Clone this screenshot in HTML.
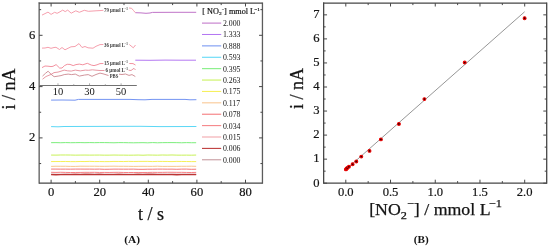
<!DOCTYPE html>
<html><head><meta charset="utf-8"><title>Figure</title>
<style>
html,body{margin:0;padding:0;background:#fff;width:550px;height:248px;overflow:hidden}
svg{display:block;filter:blur(0.3px)}
</style></head><body>
<svg width="550" height="248" viewBox="0 0 550 248">
<rect width="550" height="248" fill="#fff"/>
<polyline points="51.1,12.6 120,12.6 135,12.7 141,12.9 146,13.3 150,13 152.5,12.4 175,12.3 196.2,12.3" fill="none" stroke="#c074c8" stroke-width="1.0" stroke-linejoin="round"/>
<polyline points="51.1,60.4 120,60.3 134.7,60.2 150,60.3 165,60.1 180,60.2 196,60.2" fill="none" stroke="#b478f2" stroke-width="1.0" stroke-linejoin="round"/>
<polyline points="51.1,100.1 62,100 70,100.1 75,100.2 78.5,99.4 90,99.4 130,99.4 138,99.7 145,99.8 152,99.4 185,99.4 190,99.8 196.4,99.7" fill="none" stroke="#7494f2" stroke-width="1.0" stroke-linejoin="round"/>
<polyline points="51.1,126.6 58,126.8 64,126.5 100,126.4 140,126.3 160,126.6 196.4,126.5" fill="none" stroke="#5cd8f6" stroke-width="1.0" stroke-linejoin="round"/>
<polyline points="51.1,142.66 55.94,142.61 60.77,142.74 65.61,142.59 70.44,142.71 75.28,142.67 80.11,142.59 84.95,142.7 89.79,142.58 94.62,142.68 99.46,142.59 104.29,142.6 109.13,142.68 113.96,142.78 118.8,142.61 123.64,142.63 128.47,142.73 133.31,142.81 138.14,142.72 142.98,142.67 147.81,142.82 152.65,142.59 157.49,142.79 162.32,142.65 167.16,142.61 171.99,142.6 176.83,142.65 181.66,142.78 186.5,142.62 191.34,142.72 196.17,142.73" fill="none" stroke="#7cee7c" stroke-width="1.0" stroke-linejoin="round"/>
<polyline points="51.1,155.07 55.94,155.11 60.77,154.99 65.61,154.99 70.44,155.03 75.28,155.15 80.11,155.08 84.95,155.05 89.79,155.12 94.62,155.09 99.46,155.05 104.29,155.17 109.13,155.15 113.96,155.04 118.8,155.12 123.64,155.11 128.47,155.19 133.31,155.16 138.14,155.05 142.98,155.22 147.81,155 152.65,155.08 157.49,155.16 162.32,155.01 167.16,155.1 171.99,154.98 176.83,155.14 181.66,155.17 186.5,155.12 191.34,155.19 196.17,155.05" fill="none" stroke="#c8f258" stroke-width="1.0" stroke-linejoin="round"/>
<polyline points="51.1,161.55 55.94,161.52 60.77,161.52 65.61,161.49 70.44,161.58 75.28,161.61 80.11,161.49 84.95,161.54 89.79,161.39 94.62,161.55 99.46,161.54 104.29,161.62 109.13,161.58 113.96,161.45 118.8,161.47 123.64,161.54 128.47,161.38 133.31,161.49 138.14,161.42 142.98,161.4 147.81,161.39 152.65,161.57 157.49,161.41 162.32,161.44 167.16,161.47 171.99,161.59 176.83,161.4 181.66,161.49 186.5,161.51 191.34,161.6 196.17,161.58" fill="none" stroke="#f6f05a" stroke-width="1.0" stroke-linejoin="round"/>
<polyline points="51.1,166.39 55.94,166.24 60.77,166.28 65.61,166.26 70.44,166.4 75.28,166.41 80.11,166.21 84.95,166.22 89.79,166.23 94.62,166.23 99.46,166.3 104.29,166.32 109.13,166.24 113.96,166.18 118.8,166.28 123.64,166.27 128.47,166.32 133.31,166.41 138.14,166.35 142.98,166.3 147.81,166.33 152.65,166.34 157.49,166.19 162.32,166.4 167.16,166.37 171.99,166.39 176.83,166.37 181.66,166.27 186.5,166.27 191.34,166.2 196.17,166.33" fill="none" stroke="#f9c690" stroke-width="1.0" stroke-linejoin="round"/>
<polyline points="51.1,169.09 55.94,169.09 60.77,169.13 65.61,169.12 70.44,169.16 75.28,169.09 80.11,169.08 84.95,169.11 89.79,169.1 94.62,169.17 99.46,169.08 104.29,169.29 109.13,169.23 113.96,169.11 118.8,169.14 123.64,169.16 128.47,169.17 133.31,169.11 138.14,169.29 142.98,169.32 147.81,169.19 152.65,169.2 157.49,169.1 162.32,169.1 167.16,169.16 171.99,169.14 176.83,169.28 181.66,169.12 186.5,169.08 191.34,169.31 196.17,169.21" fill="none" stroke="#f47678" stroke-width="1.0" stroke-linejoin="round"/>
<polyline points="51.1,172.31 55.94,172.41 60.77,172.28 65.61,172.41 70.44,172.52 75.28,172.49 80.11,172.45 84.95,172.34 89.79,172.37 94.62,172.32 99.46,172.47 104.29,172.41 109.13,172.47 113.96,172.36 118.8,172.33 123.64,172.48 128.47,172.52 133.31,172.49 138.14,172.48 142.98,172.48 147.81,172.46 152.65,172.33 157.49,172.4 162.32,172.36 167.16,172.28 171.99,172.28 176.83,172.34 181.66,172.34 186.5,172.45 191.34,172.51 196.17,172.39" fill="none" stroke="#f68084" stroke-width="1.0" stroke-linejoin="round"/>
<polyline points="51.1,174.41 55.94,174.42 60.77,174.41 65.61,174.27 70.44,174.23 75.28,174.23 80.11,174.22 84.95,174.23 89.79,174.33 94.62,174.4 99.46,174.39 104.29,174.29 109.13,174.34 113.96,174.37 118.8,174.2 123.64,174.34 128.47,174.4 133.31,174.37 138.14,174.36 142.98,174.29 147.81,174.22 152.65,174.37 157.49,174.26 162.32,174.38 167.16,174.42 171.99,174.27 176.83,174.28 181.66,174.41 186.5,174.36 191.34,174.22 196.17,174.21" fill="none" stroke="#f2a4aa" stroke-width="1.0" stroke-linejoin="round"/>
<polyline points="51.1,174.11 55.94,174.3 60.77,174.28 65.61,174.11 70.44,174.28 75.28,174.32 80.11,174.24 84.95,174.16 89.79,174.21 94.62,174.11 99.46,174.08 104.29,174.32 109.13,174.24 113.96,174.21 118.8,174.31 123.64,174.18 128.47,174.29 133.31,174.28 138.14,174.13 142.98,174.14 147.81,174.15 152.65,174.14 157.49,174.22 162.32,174.14 167.16,174.18 171.99,174.11 176.83,174.3 181.66,174.16 186.5,174.19 191.34,174.22 196.17,174.3" fill="none" stroke="#c4969c" stroke-width="1.0" stroke-linejoin="round"/>
<polyline points="51.1,174.58 55.94,174.7 60.77,174.6 65.61,174.61 70.44,174.61 75.28,174.48 80.11,174.59 84.95,174.52 89.79,174.48 94.62,174.67 99.46,174.52 104.29,174.59 109.13,174.66 113.96,174.61 118.8,174.56 123.64,174.6 128.47,174.61 133.31,174.67 138.14,174.5 142.98,174.62 147.81,174.54 152.65,174.54 157.49,174.67 162.32,174.6 167.16,174.62 171.99,174.66 176.83,174.7 181.66,174.59 186.5,174.63 191.34,174.6 196.17,174.6" fill="none" stroke="#bc3434" stroke-width="1.4" stroke-linejoin="round"/>
<rect x="40.1" y="3.8" width="95.2" height="93" fill="#fff"/>
<polyline points="42,15.1 45,13.6 48,12.1 51.1,14.4 54.6,12.3 57.1,13.3 60,11.8 62.7,10.1 65.2,11.6 67.7,10.1 71.2,13.2 75.8,10.8 79.3,12.3 84.3,10.3 88.4,11.3 93,11 96,10.8 100,10.6 103.4,10.3" fill="none" stroke="#f494a4" stroke-width="0.9" stroke-linejoin="round"/>
<polyline points="129,8 131.6,8.3 133.5,10.5 135.3,12.6" fill="none" stroke="#f494a4" stroke-width="0.9" stroke-linejoin="round"/>
<polyline points="42,48.1 45,48 48,47.3 51,48.3 54,47.5 56,47.3 59.5,49.5 62,47.5 65,49.8 68,48.3 71,46.8 75,46.5 79,43.6 82,47.5 85,46.5 88,47.8 93,48.2 96,46.3 100,44.6 103.4,44.5" fill="none" stroke="#f494a4" stroke-width="0.9" stroke-linejoin="round"/>
<polyline points="129.3,44.5 133.3,47.8 135.5,45" fill="none" stroke="#f494a4" stroke-width="0.9" stroke-linejoin="round"/>
<polyline points="42,67.6 45,66 48,66.2 51,66.6 53,66.3 56.1,64.6 59.7,68.1 62,68 64.5,65.6 67.2,64.3 70,64.4 73.2,65.6 76,64.6 79.3,64.1 82.8,64.8 87.3,63.3 91.4,65.1 94,65.6 97,64.8 100,63.6 103.4,63.5" fill="none" stroke="#f08494" stroke-width="0.9" stroke-linejoin="round"/>
<polyline points="129.3,63.5 133,63.6 135.5,65" fill="none" stroke="#f08494" stroke-width="0.9" stroke-linejoin="round"/>
<polyline points="42.5,79.2 46,76.5 51.1,74.4 54,72.6 58,72.1 61,71.2 64.2,70.1 67.5,70.8 71.2,71.1 75.3,70.1 80.3,70.9 85.3,70.1 88.5,70.3 92.4,69.8 96,70.2 100,70.5 104.5,70.5" fill="none" stroke="#e48c98" stroke-width="0.9" stroke-linejoin="round"/>
<polyline points="128.6,70.2 131,70.5 134,68.3 135.5,70" fill="none" stroke="#e48c98" stroke-width="0.9" stroke-linejoin="round"/>
<polyline points="42.5,76.1 45.5,73.3 48.1,71.2 51.1,74.3 54.1,76.7 58.1,76.1 61,75.6 64.2,74.6 68.2,74.1 71.5,74.6 75.3,74.1 79.3,76.1 84.3,75.1 88.2,74.6 92,76.3 96,74.5 100,73.1 103,73.8 108.5,75.5" fill="none" stroke="#cc8890" stroke-width="0.9" stroke-linejoin="round"/>
<polyline points="119,74.2 122,74.5 125.5,74 129,75.4 132,74.6 135.3,76.5" fill="none" stroke="#cc8890" stroke-width="0.9" stroke-linejoin="round"/>
<text x="104.1" y="11.9" font-size="5.2" fill="#3a3a3a" font-weight="bold" textLength="23.8" lengthAdjust="spacingAndGlyphs" font-family="'Liberation Serif', 'DejaVu Serif', serif">79 µmol L<tspan font-size="3.4" dy="-2" dx="-0.6">−1</tspan></text>
<text x="104.1" y="46.6" font-size="5.2" fill="#3a3a3a" font-weight="bold" textLength="23.8" lengthAdjust="spacingAndGlyphs" font-family="'Liberation Serif', 'DejaVu Serif', serif">36 µmol L<tspan font-size="3.4" dy="-2" dx="-0.6">−1</tspan></text>
<text x="104.1" y="64.9" font-size="5.2" fill="#3a3a3a" font-weight="bold" textLength="23.8" lengthAdjust="spacingAndGlyphs" font-family="'Liberation Serif', 'DejaVu Serif', serif">15 µmol L<tspan font-size="3.4" dy="-2" dx="-0.6">−1</tspan></text>
<text x="105.6" y="71.9" font-size="5.2" fill="#3a3a3a" font-weight="bold" textLength="22.3" lengthAdjust="spacingAndGlyphs" font-family="'Liberation Serif', 'DejaVu Serif', serif">6 µmol L<tspan font-size="3.4" dy="-2" dx="-0.6">−1</tspan></text>
<text x="109.7" y="78.1" font-size="5.2" fill="#3a3a3a" font-weight="bold" textLength="8.6" lengthAdjust="spacingAndGlyphs" font-family="'Liberation Serif', 'DejaVu Serif', serif">PBS</text>
<path d="M39.4 85.5H136.8" stroke="#6a6a6a" stroke-width="0.95"/>
<path d="M57.98 85.5V83.3M73.76 85.5V84.1M89.54 85.5V83.3M105.32 85.5V84.1M121.1 85.5V83.3" stroke="#8a8a8a" stroke-width="0.7"/>
<text x="57.98" y="95.3" font-size="10.5" fill="#141414" text-anchor="middle" font-family="'Liberation Serif', 'DejaVu Serif', serif">10</text>
<text x="89.54" y="95.3" font-size="10.5" fill="#141414" text-anchor="middle" font-family="'Liberation Serif', 'DejaVu Serif', serif">30</text>
<text x="121.1" y="95.3" font-size="10.5" fill="#141414" text-anchor="middle" font-family="'Liberation Serif', 'DejaVu Serif', serif">50</text>
<text x="202.3" y="13.6" font-size="7.5" fill="#141414" stroke="#141414" stroke-width="0.18" textLength="57.5" lengthAdjust="spacingAndGlyphs" font-family="'Liberation Serif', 'DejaVu Serif', serif">[ NO<tspan font-size="5" dy="1.8">2</tspan><tspan font-size="4" dy="-4.4">−</tspan><tspan dy="2.6">] mmol L</tspan><tspan font-size="4.6" dy="-2.6" dx="-0.6">−1</tspan></text>
<path d="M202 23.1H221.2" stroke="#c074c8" stroke-width="1.05"/>
<text x="222.9" y="26.05" font-size="7.8" fill="#141414" font-family="'Liberation Serif', 'DejaVu Serif', serif">2.000</text>
<path d="M202 34.49H221.2" stroke="#b478f2" stroke-width="1.05"/>
<text x="222.9" y="37.44" font-size="7.8" fill="#141414" font-family="'Liberation Serif', 'DejaVu Serif', serif">1.333</text>
<path d="M202 45.88H221.2" stroke="#7494f2" stroke-width="1.05"/>
<text x="222.9" y="48.83" font-size="7.8" fill="#141414" font-family="'Liberation Serif', 'DejaVu Serif', serif">0.888</text>
<path d="M202 57.27H221.2" stroke="#5cd8f6" stroke-width="1.05"/>
<text x="222.9" y="60.22" font-size="7.8" fill="#141414" font-family="'Liberation Serif', 'DejaVu Serif', serif">0.593</text>
<path d="M202 68.66H221.2" stroke="#7cee7c" stroke-width="1.05"/>
<text x="222.9" y="71.61" font-size="7.8" fill="#141414" font-family="'Liberation Serif', 'DejaVu Serif', serif">0.395</text>
<path d="M202 80.05H221.2" stroke="#c8f258" stroke-width="1.05"/>
<text x="222.9" y="83" font-size="7.8" fill="#141414" font-family="'Liberation Serif', 'DejaVu Serif', serif">0.263</text>
<path d="M202 91.44H221.2" stroke="#f6f05a" stroke-width="1.05"/>
<text x="222.9" y="94.39" font-size="7.8" fill="#141414" font-family="'Liberation Serif', 'DejaVu Serif', serif">0.175</text>
<path d="M202 102.83H221.2" stroke="#f9c690" stroke-width="1.05"/>
<text x="222.9" y="105.78" font-size="7.8" fill="#141414" font-family="'Liberation Serif', 'DejaVu Serif', serif">0.117</text>
<path d="M202 114.22H221.2" stroke="#f47678" stroke-width="1.05"/>
<text x="222.9" y="117.17" font-size="7.8" fill="#141414" font-family="'Liberation Serif', 'DejaVu Serif', serif">0.078</text>
<path d="M202 125.61H221.2" stroke="#f68084" stroke-width="1.05"/>
<text x="222.9" y="128.56" font-size="7.8" fill="#141414" font-family="'Liberation Serif', 'DejaVu Serif', serif">0.034</text>
<path d="M202 137H221.2" stroke="#f2a4aa" stroke-width="1.05"/>
<text x="222.9" y="139.95" font-size="7.8" fill="#141414" font-family="'Liberation Serif', 'DejaVu Serif', serif">0.015</text>
<path d="M202 148.39H221.2" stroke="#bc3434" stroke-width="1.05"/>
<text x="222.9" y="151.34" font-size="7.8" fill="#141414" font-family="'Liberation Serif', 'DejaVu Serif', serif">0.006</text>
<path d="M202 159.78H221.2" stroke="#c4969c" stroke-width="1.05"/>
<text x="222.9" y="162.73" font-size="7.8" fill="#141414" font-family="'Liberation Serif', 'DejaVu Serif', serif">0.000</text>
<path d="M39.15 2.45V183.75M262.45 2.45V183.75" stroke="#5c5c5c" stroke-width="1.3" fill="none"/>
<rect x="39.15" y="3.1" width="223.3" height="180" fill="none" stroke="#474747" stroke-width="1.3" stroke-dasharray="223.3 180"/>
<path d="M51.1 183.1V179.7M51.1 3.1V6.5M99.7 183.1V179.7M99.7 3.1V6.5M148.3 183.1V179.7M148.3 3.1V6.5M196.9 183.1V179.7M196.9 3.1V6.5M245.5 183.1V179.7M245.5 3.1V6.5" stroke="#474747" stroke-width="1" fill="none"/>
<path d="M75.4 183.1V181.1M75.4 3.1V5.1M124 183.1V181.1M124 3.1V5.1M172.6 183.1V181.1M172.6 3.1V5.1M221.2 183.1V181.1M221.2 3.1V5.1" stroke="#474747" stroke-width="1" fill="none"/>
<path d="M39.15 137.9H42.55M262.45 137.9H259.05M39.15 86.6H42.55M262.45 86.6H259.05M39.15 35.3H42.55M262.45 35.3H259.05" stroke="#474747" stroke-width="1" fill="none"/>
<path d="M39.15 163.55H41.15M262.45 163.55H260.45M39.15 112.25H41.15M262.45 112.25H260.45M39.15 60.95H41.15M262.45 60.95H260.45M39.15 9.65H41.15M262.45 9.65H260.45" stroke="#474747" stroke-width="1" fill="none"/>
<text transform="translate(51.1 196.3) scale(1 1.06)" font-size="12.6" fill="#141414" stroke="#141414" stroke-width="0.2" text-anchor="middle" font-family="'Liberation Serif', 'DejaVu Serif', serif">0</text>
<text transform="translate(99.7 196.3) scale(1 1.06)" font-size="12.6" fill="#141414" stroke="#141414" stroke-width="0.2" text-anchor="middle" font-family="'Liberation Serif', 'DejaVu Serif', serif">20</text>
<text transform="translate(148.3 196.3) scale(1 1.06)" font-size="12.6" fill="#141414" stroke="#141414" stroke-width="0.2" text-anchor="middle" font-family="'Liberation Serif', 'DejaVu Serif', serif">40</text>
<text transform="translate(196.9 196.3) scale(1 1.06)" font-size="12.6" fill="#141414" stroke="#141414" stroke-width="0.2" text-anchor="middle" font-family="'Liberation Serif', 'DejaVu Serif', serif">60</text>
<text transform="translate(245.5 196.3) scale(1 1.06)" font-size="12.6" fill="#141414" stroke="#141414" stroke-width="0.2" text-anchor="middle" font-family="'Liberation Serif', 'DejaVu Serif', serif">80</text>
<text transform="translate(35.2 141.2) scale(1 1.06)" font-size="12.6" fill="#141414" stroke="#141414" stroke-width="0.2" text-anchor="end" font-family="'Liberation Serif', 'DejaVu Serif', serif">2</text>
<text transform="translate(35.2 89.9) scale(1 1.06)" font-size="12.6" fill="#141414" stroke="#141414" stroke-width="0.2" text-anchor="end" font-family="'Liberation Serif', 'DejaVu Serif', serif">4</text>
<text transform="translate(35.2 38.6) scale(1 1.06)" font-size="12.6" fill="#141414" stroke="#141414" stroke-width="0.2" text-anchor="end" font-family="'Liberation Serif', 'DejaVu Serif', serif">6</text>
<text transform="translate(15.2 89.1) rotate(-90)" font-size="18" fill="#141414" stroke="#141414" stroke-width="0.25" text-anchor="middle" font-family="'Liberation Serif', 'DejaVu Serif', serif">i / nA</text>
<text x="151" y="219.6" font-size="18" fill="#141414" stroke="#141414" stroke-width="0.25" text-anchor="middle" font-family="'Liberation Serif', 'DejaVu Serif', serif">t / s</text>
<text x="132.1" y="242.7" font-size="11.4" font-weight="bold" fill="#141414" text-anchor="middle" font-family="'Liberation Serif', 'DejaVu Serif', serif">(A)</text>
<path d="M345.8 169.6L524.6 11.8" stroke="#8a8a8a" stroke-width="0.9"/>
<circle cx="345.9" cy="169.4" r="1.45" fill="#3a0000" stroke="#f00000" stroke-width="1.05"/>
<circle cx="346.5" cy="168.7" r="1.45" fill="#3a0000" stroke="#f00000" stroke-width="1.05"/>
<circle cx="347.3" cy="168" r="1.45" fill="#3a0000" stroke="#f00000" stroke-width="1.05"/>
<circle cx="348.9" cy="166.8" r="1.45" fill="#3a0000" stroke="#f00000" stroke-width="1.05"/>
<circle cx="352.6" cy="164.3" r="1.45" fill="#3a0000" stroke="#f00000" stroke-width="1.05"/>
<circle cx="356.3" cy="161.5" r="1.45" fill="#3a0000" stroke="#f00000" stroke-width="1.05"/>
<circle cx="361.3" cy="156.6" r="1.45" fill="#3a0000" stroke="#f00000" stroke-width="1.05"/>
<circle cx="369.5" cy="150.9" r="1.45" fill="#3a0000" stroke="#f00000" stroke-width="1.05"/>
<circle cx="380.9" cy="139.4" r="1.45" fill="#3a0000" stroke="#f00000" stroke-width="1.05"/>
<circle cx="398.9" cy="123.9" r="1.45" fill="#3a0000" stroke="#f00000" stroke-width="1.05"/>
<circle cx="424.4" cy="99.1" r="1.45" fill="#3a0000" stroke="#f00000" stroke-width="1.05"/>
<circle cx="464.7" cy="62.6" r="1.45" fill="#3a0000" stroke="#f00000" stroke-width="1.05"/>
<circle cx="524.6" cy="18.2" r="1.45" fill="#3a0000" stroke="#f00000" stroke-width="1.05"/>
<path d="M323.65 2.45V183.75M546.7 2.45V183.75" stroke="#474747" stroke-width="1.3" fill="none"/>
<rect x="323.65" y="3.1" width="223.05" height="180" fill="none" stroke="#474747" stroke-width="1.3" stroke-dasharray="223.05 180"/>
<path d="M345.8 183.1V179.7M345.8 3.1V6.5M390.53 183.1V179.7M390.53 3.1V6.5M435.25 183.1V179.7M435.25 3.1V6.5M479.98 183.1V179.7M479.98 3.1V6.5M524.7 183.1V179.7M524.7 3.1V6.5" stroke="#474747" stroke-width="1" fill="none"/>
<path d="M368.16 183.1V181.1M368.16 3.1V5.1M412.89 183.1V181.1M412.89 3.1V5.1M457.61 183.1V181.1M457.61 3.1V5.1M502.34 183.1V181.1M502.34 3.1V5.1" stroke="#474747" stroke-width="1" fill="none"/>
<path d="M323.65 183.2H327.05M546.7 183.2H543.3M323.65 159.15H327.05M546.7 159.15H543.3M323.65 135.1H327.05M546.7 135.1H543.3M323.65 111.05H327.05M546.7 111.05H543.3M323.65 87H327.05M546.7 87H543.3M323.65 62.95H327.05M546.7 62.95H543.3M323.65 38.9H327.05M546.7 38.9H543.3M323.65 14.85H327.05M546.7 14.85H543.3" stroke="#474747" stroke-width="1" fill="none"/>
<path d="M323.65 171.17H325.65M546.7 171.17H544.7M323.65 147.12H325.65M546.7 147.12H544.7M323.65 123.07H325.65M546.7 123.07H544.7M323.65 99.02H325.65M546.7 99.02H544.7M323.65 74.97H325.65M546.7 74.97H544.7M323.65 50.92H325.65M546.7 50.92H544.7M323.65 26.87H325.65M546.7 26.87H544.7" stroke="#474747" stroke-width="1" fill="none"/>
<text transform="translate(345.8 196.3) scale(1 1.06)" font-size="12.6" fill="#141414" stroke="#141414" stroke-width="0.2" text-anchor="middle" font-family="'Liberation Serif', 'DejaVu Serif', serif">0.0</text>
<text transform="translate(390.53 196.3) scale(1 1.06)" font-size="12.6" fill="#141414" stroke="#141414" stroke-width="0.2" text-anchor="middle" font-family="'Liberation Serif', 'DejaVu Serif', serif">0.5</text>
<text transform="translate(435.25 196.3) scale(1 1.06)" font-size="12.6" fill="#141414" stroke="#141414" stroke-width="0.2" text-anchor="middle" font-family="'Liberation Serif', 'DejaVu Serif', serif">1.0</text>
<text transform="translate(479.98 196.3) scale(1 1.06)" font-size="12.6" fill="#141414" stroke="#141414" stroke-width="0.2" text-anchor="middle" font-family="'Liberation Serif', 'DejaVu Serif', serif">1.5</text>
<text transform="translate(524.7 196.3) scale(1 1.06)" font-size="12.6" fill="#141414" stroke="#141414" stroke-width="0.2" text-anchor="middle" font-family="'Liberation Serif', 'DejaVu Serif', serif">2.0</text>
<text transform="translate(319.6 186.5) scale(1 1.06)" font-size="12.6" fill="#141414" stroke="#141414" stroke-width="0.2" text-anchor="end" font-family="'Liberation Serif', 'DejaVu Serif', serif">0</text>
<text transform="translate(319.6 162.45) scale(1 1.06)" font-size="12.6" fill="#141414" stroke="#141414" stroke-width="0.2" text-anchor="end" font-family="'Liberation Serif', 'DejaVu Serif', serif">1</text>
<text transform="translate(319.6 138.4) scale(1 1.06)" font-size="12.6" fill="#141414" stroke="#141414" stroke-width="0.2" text-anchor="end" font-family="'Liberation Serif', 'DejaVu Serif', serif">2</text>
<text transform="translate(319.6 114.35) scale(1 1.06)" font-size="12.6" fill="#141414" stroke="#141414" stroke-width="0.2" text-anchor="end" font-family="'Liberation Serif', 'DejaVu Serif', serif">3</text>
<text transform="translate(319.6 90.3) scale(1 1.06)" font-size="12.6" fill="#141414" stroke="#141414" stroke-width="0.2" text-anchor="end" font-family="'Liberation Serif', 'DejaVu Serif', serif">4</text>
<text transform="translate(319.6 66.25) scale(1 1.06)" font-size="12.6" fill="#141414" stroke="#141414" stroke-width="0.2" text-anchor="end" font-family="'Liberation Serif', 'DejaVu Serif', serif">5</text>
<text transform="translate(319.6 42.2) scale(1 1.06)" font-size="12.6" fill="#141414" stroke="#141414" stroke-width="0.2" text-anchor="end" font-family="'Liberation Serif', 'DejaVu Serif', serif">6</text>
<text transform="translate(319.6 18.15) scale(1 1.06)" font-size="12.6" fill="#141414" stroke="#141414" stroke-width="0.2" text-anchor="end" font-family="'Liberation Serif', 'DejaVu Serif', serif">7</text>
<text transform="translate(303.1 88.6) rotate(-90)" font-size="18" fill="#141414" stroke="#141414" stroke-width="0.25" text-anchor="middle" font-family="'Liberation Serif', 'DejaVu Serif', serif">i / nA</text>
<text x="369.2" y="215" font-size="16" fill="#141414" stroke="#141414" stroke-width="0.25" textLength="132.6" lengthAdjust="spacingAndGlyphs" font-family="'Liberation Serif', 'DejaVu Serif', serif">[NO<tspan font-size="11" dy="3.6">2</tspan><tspan font-size="11" dy="-11.2">−</tspan><tspan dy="7.6">] / mmol L</tspan><tspan font-size="11" dy="-8" dx="-1.6">−1</tspan></text>
<text x="421.2" y="242.7" font-size="11.2" font-weight="bold" fill="#141414" text-anchor="middle" font-family="'Liberation Serif', 'DejaVu Serif', serif">(B)</text>
</svg>
</body></html>
